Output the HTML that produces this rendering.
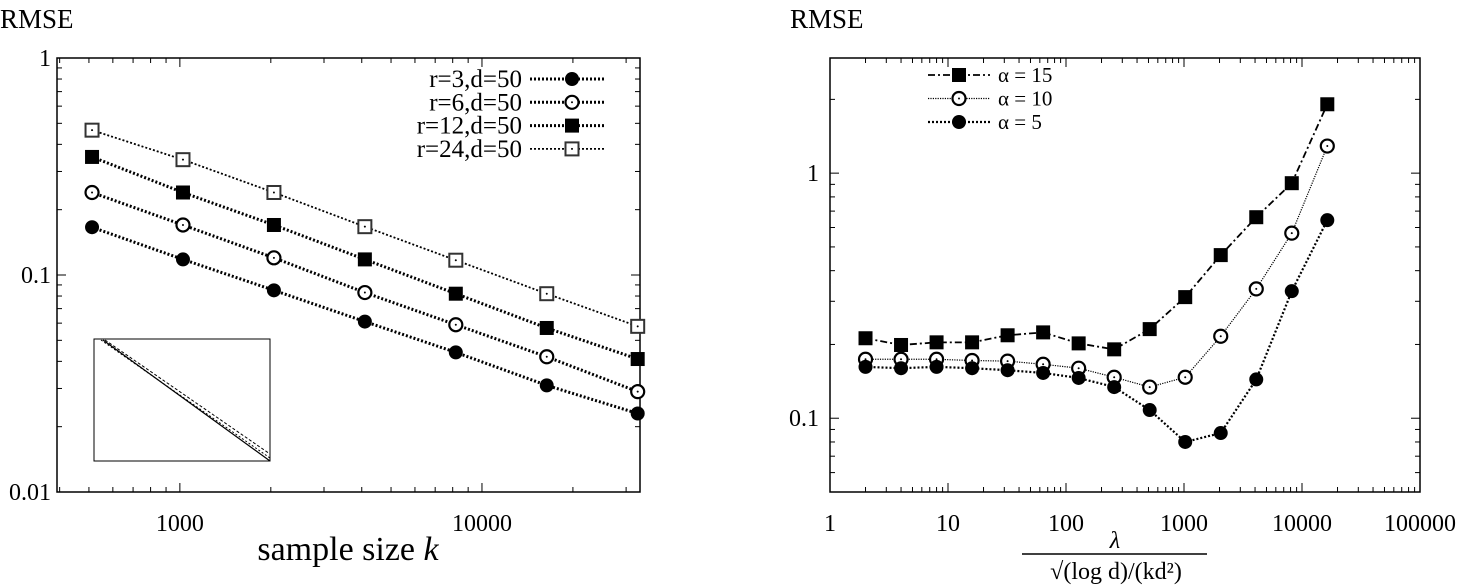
<!DOCTYPE html>
<html><head><meta charset="utf-8"><style>
html,body{margin:0;padding:0;background:#fff}
svg{display:block;font-family:"Liberation Serif",serif}
</style></head><body>
<svg id="c" width="1460" height="588" viewBox="0 0 1460 588" xmlns="http://www.w3.org/2000/svg"></svg>
<script>
// Left chart data
const leftK = [512,1024,2048,4096,8192,16384,32768];
const leftLabels = ["r=3,d=50","r=6,d=50","r=12,d=50","r=24,d=50"];
const leftR3 = [0.166,0.118,0.085,0.061,0.044,0.031,0.023];
const leftR6 = [0.24,0.17,0.12,0.083,0.059,0.042,0.029];
const leftR12 = [0.35,0.24,0.17,0.118,0.082,0.057,0.041];
const leftR24 = [0.465,0.34,0.24,0.167,0.117,0.082,0.058];
const leftXTicks = [1000,10000];
const leftYTicks = [0.01,0.1,1];
// Right chart data
const rightLambda = [2,4,8,16,32,64,128,256,512,1024,2048,4096,8192,16384];
const rightLabels = ["\u03b1 = 15","\u03b1 = 10","\u03b1 = 5"];
const rightA15 = [0.212,0.199,0.204,0.204,0.218,0.224,0.202,0.191,0.231,0.312,0.463,0.661,0.91,1.91];
const rightA10 = [0.174,0.174,0.174,0.172,0.171,0.166,0.16,0.147,0.134,0.147,0.216,0.337,0.569,1.29];
const rightA5 = [0.162,0.16,0.162,0.16,0.157,0.153,0.146,0.134,0.108,0.08,0.087,0.144,0.33,0.643];
const rightXTicks = [1,10,100,1000,10000,100000];
const rightYTicks = [0.1,1];

const NS="http://www.w3.org/2000/svg";
const svg=document.getElementById('c');
function mk(tag,attrs,parent){const e=document.createElementNS(NS,tag);for(const k in attrs)e.setAttribute(k,attrs[k]);(parent||svg).appendChild(e);return e;}
function logScale(d0,d1,r0,r1){const a=Math.log10(d0),b=Math.log10(d1);return v=>r0+(Math.log10(v)-a)/(b-a)*(r1-r0);}

function marker(g,type,x,y){
  let e;
  if(type==='fc'){e=mk('circle',{cx:x,cy:y,r:7,fill:'#000'},g);}
  else if(type==='oc'){e=mk('circle',{cx:x,cy:y,r:6.5,fill:'#fff',stroke:'#000','stroke-width':2.2},g);mk('circle',{cx:x,cy:y,r:1,fill:'#000'},g);}
  else if(type==='fs'){e=mk('rect',{x:x-7,y:y-7,width:14,height:14,fill:'#000'},g);}
  else {e=mk('rect',{x:x-6.5,y:y-6.5,width:13,height:13,fill:'#fff',stroke:'#333','stroke-width':2},g);mk('circle',{cx:x,cy:y,r:1,fill:'#000'},g);}
  
  
}

function axesFrame(L,R,T,B,xs,ys,xd,yd,name){
  const g=mk('g',{});
  
  
  mk('rect',{x:L,y:T,width:R-L,height:B-T,fill:'none',stroke:'#000','stroke-width':1.5},g);
  for(let e=Math.floor(Math.log10(xd[0]));e<=Math.ceil(Math.log10(xd[1]));e++){
    for(let m=1;m<10;m++){const v=m*Math.pow(10,e);if(v<xd[0]-1e-9||v>xd[1]+1e-9)continue;const x=xs(v);const len=m===1?9:5;
      mk('line',{x1:x,y1:B,x2:x,y2:B-len,stroke:'#000','stroke-width':1},g);mk('line',{x1:x,y1:T,x2:x,y2:T+len,stroke:'#000','stroke-width':1},g);}
  }
  for(let e=Math.floor(Math.log10(yd[0]));e<=Math.ceil(Math.log10(yd[1]));e++){
    for(let m=1;m<10;m++){const v=m*Math.pow(10,e);if(v<yd[0]-1e-9||v>yd[1]+1e-9)continue;const y=ys(v);const len=m===1?9:5;
      mk('line',{x1:L,y1:y,x2:L+len,y2:y,stroke:'#000','stroke-width':1},g);mk('line',{x1:R,y1:y,x2:R-len,y2:y,stroke:'#000','stroke-width':1},g);}
  }
  return g;
}
function series(xv,yv,xs,ys,type,dash,width,name){
  const g=mk('g',{});
  
  
  const pts=xv.map((v,i)=>xs(v)+','+ys(yv[i])).join(' ');
  const pl=mk('polyline',{points:pts,fill:'none',stroke:'#000','stroke-width':width,'stroke-dasharray':dash},g);
  
  
  xv.forEach((v,i)=>marker(g,type,xs(v),ys(yv[i])));
}
function txt(x,y,s,size,anchor,name,style){
  const t=mk('text',{x:x,y:y,'font-size':size+'px','text-anchor':anchor||'start'});
  if(style)t.setAttribute('font-style',style);
  t.textContent=s;
  
  
  return t;
}

// LEFT
{
const L=57,R=640,T=58,B=492;
const xd=[392,33350],yd=[0.01,1];
const xs=logScale(xd[0],xd[1],L,R), ys=logScale(yd[0],yd[1],B,T);
axesFrame(L,R,T,B,xs,ys,xd,yd,'left-chart');
leftXTicks.forEach(v=>txt(xs(v),531,String(v),24,'middle','left-x-tick-label'));
leftYTicks.forEach(v=>txt(L-6,ys(v)+8,String(v),24,'end','left-y-tick-label'));
txt(0,28,'RMSE',27,'start','left-y-axis-title');
const xt=txt(348,560,'sample size ',34,'middle','left-x-axis-title');
const k=document.createElementNS(NS,'tspan');k.setAttribute('font-style','italic');k.textContent='k';xt.appendChild(k);
const inset=mk('g',{});


mk('rect',{x:94,y:339,width:176,height:122,fill:'none',stroke:'#000','stroke-width':1},inset);
mk('line',{x1:103,y1:340,x2:270,y2:461,stroke:'#000','stroke-width':1.2},inset);
mk('line',{x1:105,y1:340,x2:270,y2:454,stroke:'#000','stroke-width':1,'stroke-dasharray':'3,2'},inset);
mk('line',{x1:101,y1:340,x2:270,y2:458,stroke:'#000','stroke-width':1,'stroke-dasharray':'2,2'},inset);
const data=[leftR3,leftR6,leftR12,leftR24],types=['fc','oc','fs','os'],widths=[3,3,3,1.8];
data.forEach((d,i)=>series(leftK,d,xs,ys,types[i],'2,2',widths[i],'series-'+leftLabels[i].replace(/[=,]/g,'-')));
leftLabels.forEach((s,i)=>{
  const y=79+i*23.3;
  txt(522,y+8,s,25,'end','legend-label');
  const lg=mk('g',{});
  
  
  mk('line',{x1:530,y1:y,x2:606,y2:y,stroke:'#000','stroke-width':widths[i],'stroke-dasharray':'2,2'},lg);
  marker(lg,types[i],572,y);
});
}
// RIGHT
{
const L=830,R=1420,T=58,B=492;
const xd=[1,100000],yd=[0.05,2.95];
const xs=logScale(xd[0],xd[1],L,R), ys=logScale(yd[0],yd[1],B,T);
axesFrame(L,R,T,B,xs,ys,xd,yd,'right-chart');
rightXTicks.forEach(v=>txt(xs(v),531,String(v),24,'middle','right-x-tick-label'));
rightYTicks.forEach(v=>txt(L-11,ys(v)+8,String(v),24,'end','right-y-tick-label'));
txt(790,28,'RMSE',27,'start','right-y-axis-title');
txt(1115,548,'\u03bb',24,'middle','right-x-axis-title-numerator','italic');
const fl=mk('line',{x1:1022,y1:554,x2:1207,y2:554,stroke:'#000','stroke-width':1.5});


txt(1116,579,'\u221a(log d)/(kd\u00b2)',24,'middle','right-x-axis-title-denominator');
series(rightLambda,rightA15,xs,ys,'fs','7,3,2,3',1.8,'series-alpha-15');
series(rightLambda,rightA10,xs,ys,'oc','1.2,1.2',1.2,'series-alpha-10');
series(rightLambda,rightA5,xs,ys,'fc','2,2',2.2,'series-alpha-5');
const lt=['fs','oc','fc'],ld=['7,3,2,3','1.2,1.2','2,2'],lw=[1.8,1.2,2.2];
rightLabels.forEach((s,i)=>{
  const y=75+i*23.5;
  const lg=mk('g',{});
  
  
  mk('line',{x1:928,y1:y,x2:990,y2:y,stroke:'#000','stroke-width':lw[i],'stroke-dasharray':ld[i]},lg);
  marker(lg,lt[i],959,y);
  txt(998,y+7,s,21,'start','legend-label');
});
}
</script>
</body></html>
